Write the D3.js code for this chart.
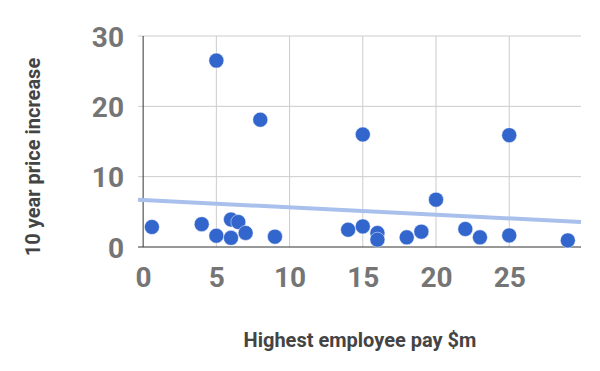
<!DOCTYPE html>
<html>
<head>
<meta charset="utf-8">
<script src="https://cdn.jsdelivr.net/npm/d3@7"></script>
<style>
  body { margin: 0; background: #fff; }
  text { font-family: Roboto, sans-serif; }
</style>
</head>
<body>
<svg id="chart"></svg>
<script>
// highest employee pay ($m) vs 10 year price increase
const pay = [0.6, 4, 5, 5, 6, 6, 6.5, 7, 8, 9, 14, 15, 15, 16, 16, 18, 19, 20, 22, 23, 25, 25, 29];
const increase = [2.85, 3.25, 26.5, 1.6, 1.3, 3.9, 3.55, 2.0, 18.1, 1.47, 2.46, 16.0, 2.93, 1.99, 1.04, 1.37, 2.18, 6.73, 2.56, 1.37, 15.9, 1.65, 0.94];
const trend = { intercept: 6.69, slope: -0.105 };
const xTicks = [0, 5, 10, 15, 20, 25];
const yTicks = [0, 10, 20, 30];

const width = 600;
const height = 371;
const margin = { top: 36, right: 19, bottom: 124, left: 138 };

const svg = d3.select("#chart").attr("width", width).attr("height", height);

const x = d3.scaleLinear().domain([-0.35, 29.9]).range([margin.left, width - margin.right]);
const y = d3.scaleLinear().domain([0, 30]).range([height - margin.bottom, margin.top]);

// gridlines
svg.append("g")
  .selectAll("line")
  .data(yTicks.slice(1))
  .enter()
  .append("line")
  .attr("x1", x.range()[0])
  .attr("x2", x.range()[1])
  .attr("y1", (d) => y(d))
  .attr("y2", (d) => y(d))
  .attr("stroke", "#cccccc");

svg.append("g")
  .selectAll("line")
  .data(xTicks.slice(1))
  .enter()
  .append("line")
  .attr("x1", (d) => x(d))
  .attr("x2", (d) => x(d))
  .attr("y1", y.range()[0])
  .attr("y2", y.range()[1])
  .attr("stroke", "#cccccc");

// axes via d3, restyled
const xAxis = svg.append("g")
  .attr("transform", `translate(0,${y(0)})`)
  .call(d3.axisBottom(x).tickValues(xTicks).tickSize(0).tickPadding(20));
xAxis.select(".domain").remove();
xAxis.selectAll("text")
  .attr("fill", "#757575")
  .style("font-size", "28px")
  .style("font-weight", "bold");

const yAxis = svg.append("g")
  .attr("transform", `translate(${margin.left},0)`)
  .call(d3.axisLeft(y).tickValues(yTicks).tickSize(0).tickPadding(14));
yAxis.select(".domain").remove();
yAxis.selectAll("text")
  .attr("fill", "#757575")
  .attr("dy", "0.36em")
  .style("font-size", "28px")
  .style("font-weight", "bold");

// baselines
svg.append("line")
  .attr("x1", x(0)).attr("x2", x(0))
  .attr("y1", y(0)).attr("y2", y(30))
  .attr("stroke", "#333");
svg.append("line")
  .attr("x1", x.range()[0]).attr("x2", x.range()[1])
  .attr("y1", y(0)).attr("y2", y(0))
  .attr("stroke", "#333");

// trendline
const tx = x.domain();
svg.append("line")
  .attr("x1", x(tx[0]))
  .attr("x2", x(tx[1]))
  .attr("y1", y(trend.intercept + trend.slope * tx[0]))
  .attr("y2", y(trend.intercept + trend.slope * tx[1]))
  .attr("stroke", "#a9c0ec")
  .attr("stroke-width", 4);

// points
svg.append("g")
  .selectAll("circle")
  .data(pay.map((p, i) => ({ p, v: increase[i] })))
  .enter()
  .append("circle")
  .attr("cx", (d) => x(d.p))
  .attr("cy", (d) => y(d.v))
  .attr("r", 7.5)
  .attr("fill", "#3366cc")
  .attr("stroke", "#ffffff")
  .attr("stroke-opacity", 0.6)
  .attr("stroke-width", 0.8);

// axis titles
svg.append("text")
  .attr("x", 360)
  .attr("y", 347)
  .attr("text-anchor", "middle")
  .attr("fill", "#444")
  .style("font-size", "20px")
  .style("font-weight", "bold")
  .text("Highest employee pay $m");

svg.append("text")
  .attr("transform", "translate(40,157) rotate(-90)")
  .attr("text-anchor", "middle")
  .attr("fill", "#444")
  .style("font-size", "20px")
  .style("font-weight", "bold")
  .text("10 year price increase");
</script>
</body>
</html>
